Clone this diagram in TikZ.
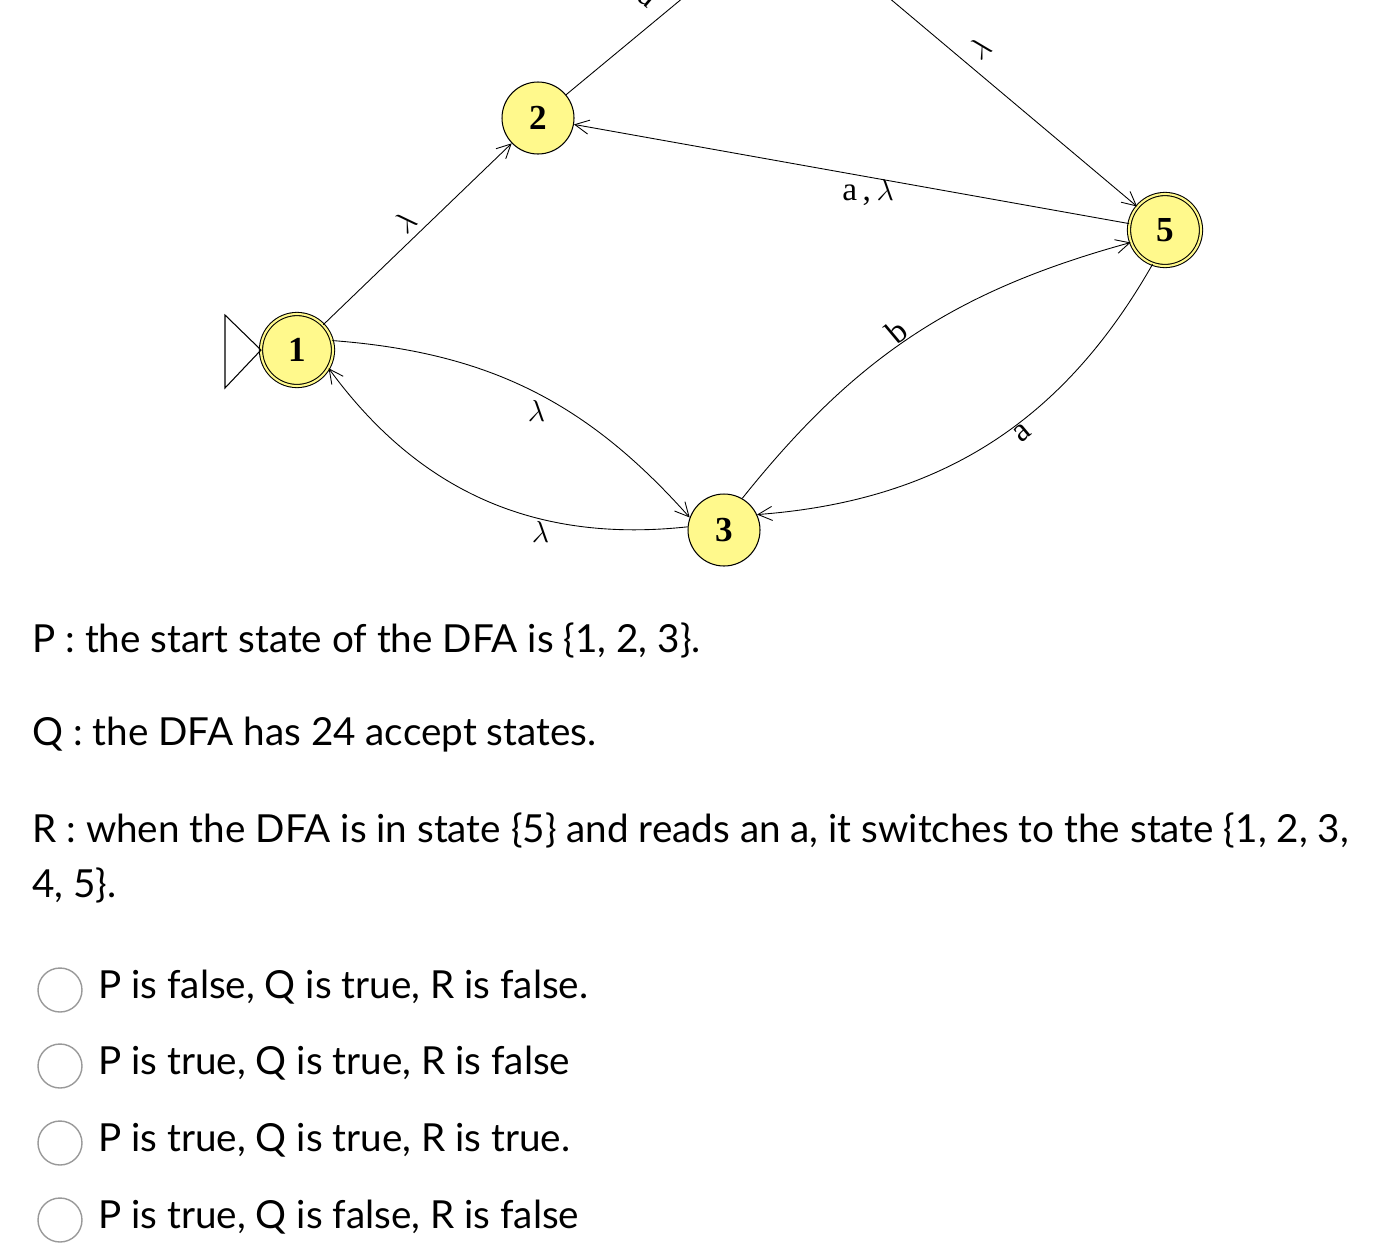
\documentclass[tikz,border=0pt]{standalone}
\usepackage{fontspec}
\setmainfont{Lato}
\newfontfamily\serif{Liberation Serif}
\usetikzlibrary{arrows.meta}
\begin{document}
\begin{tikzpicture}[x=0.02cm,y=-0.02cm,
  st/.style={circle,draw=black,fill=yellow!45,minimum size=1.44cm,inner sep=0pt,font=\serif\fontsize{20}{20}\selectfont\bfseries,line width=0.6pt},
  acc/.style={st,double=yellow!45,double distance=1.2pt},
  ed/.style={-{Straight Barb[length=8pt,width=8pt]},line width=0.5pt},
  lb/.style={font=\serif\fontsize{19}{19}\selectfont,inner sep=1pt},
  txt/.style={anchor=west,inner sep=0pt,font=\fontsize{22}{26}\selectfont},
  radio/.style={circle,draw=gray!80,line width=0.8pt,minimum size=0.88cm,inner sep=0pt}]
\useasboundingbox (0,0) rectangle (1375,1248);
\node[acc] (n1) at (297,350) {1};
\node[st] (n2) at (538,118) {2};
\node[st] (n3) at (724,530) {3};
\node[acc] (n5) at (1165,230) {5};
\draw[line width=0.6pt] (225,315) -- (261,350) -- (225,388) -- cycle;
\coordinate (ta) at (684,-3);
\coordinate (tb) at (888,-3);
\draw[line width=0.5pt] (n2) -- (ta);
\node[lb,rotate=-40] at (647,-2) {a};
\draw[ed] (tb) -- (n5);
\node[lb,rotate=40] (l5) at (980,48) {$\lambda$};
\draw[ed] (n1) -- (n2);
\node[lb,rotate=45] (l12) at (405,222) {$\lambda$};
\draw[ed] (n5) -- (n2) node[lb,pos=0.47,below] {a\,,\,$\lambda$};
\draw[ed] (n1.15) to[bend left=22] node[lb,pos=0.55,below left] {$\lambda$} (n3.160);
\draw[ed] (n3.175) to[bend left=30] node[lb,pos=0.35,below] {$\lambda$} (n1.-30);
\draw[ed] (n3.60) to[bend left=18] node[lb,pos=0.5,above left,rotate=40] {b} (n5.200);
\draw[ed] (n5.250) to[bend left=28] node[lb,pos=0.45,below right,rotate=40] {a} (n3.25);
\node[txt] (p) at (32,640) {P : the start state of the DFA is \{1, 2, 3\}.};
\node[txt] (q) at (32,735) {Q : the DFA has 24 accept states.};
\node[txt] (r1) at (32,830) {R : when the DFA is in state \{5\} and reads an a, it switches to the state \{1, 2, 3,};
\node[txt] (r2) at (32,885) {4, 5\}.};
\node[radio] (c1) at (60,990) {}; \node[txt] (o1) at (98,987) {P is false, Q is true, R is false.};
\node[radio] (c2) at (60,1066) {}; \node[txt] (o2) at (98,1063) {P is true, Q is true, R is false};
\node[radio] (c3) at (60,1143) {}; \node[txt] (o3) at (98,1140) {P is true, Q is true, R is true.};
\node[radio] (c4) at (60,1220) {}; \node[txt] (o4) at (98,1217) {P is true, Q is false, R is false};
\end{tikzpicture}
\end{document}
